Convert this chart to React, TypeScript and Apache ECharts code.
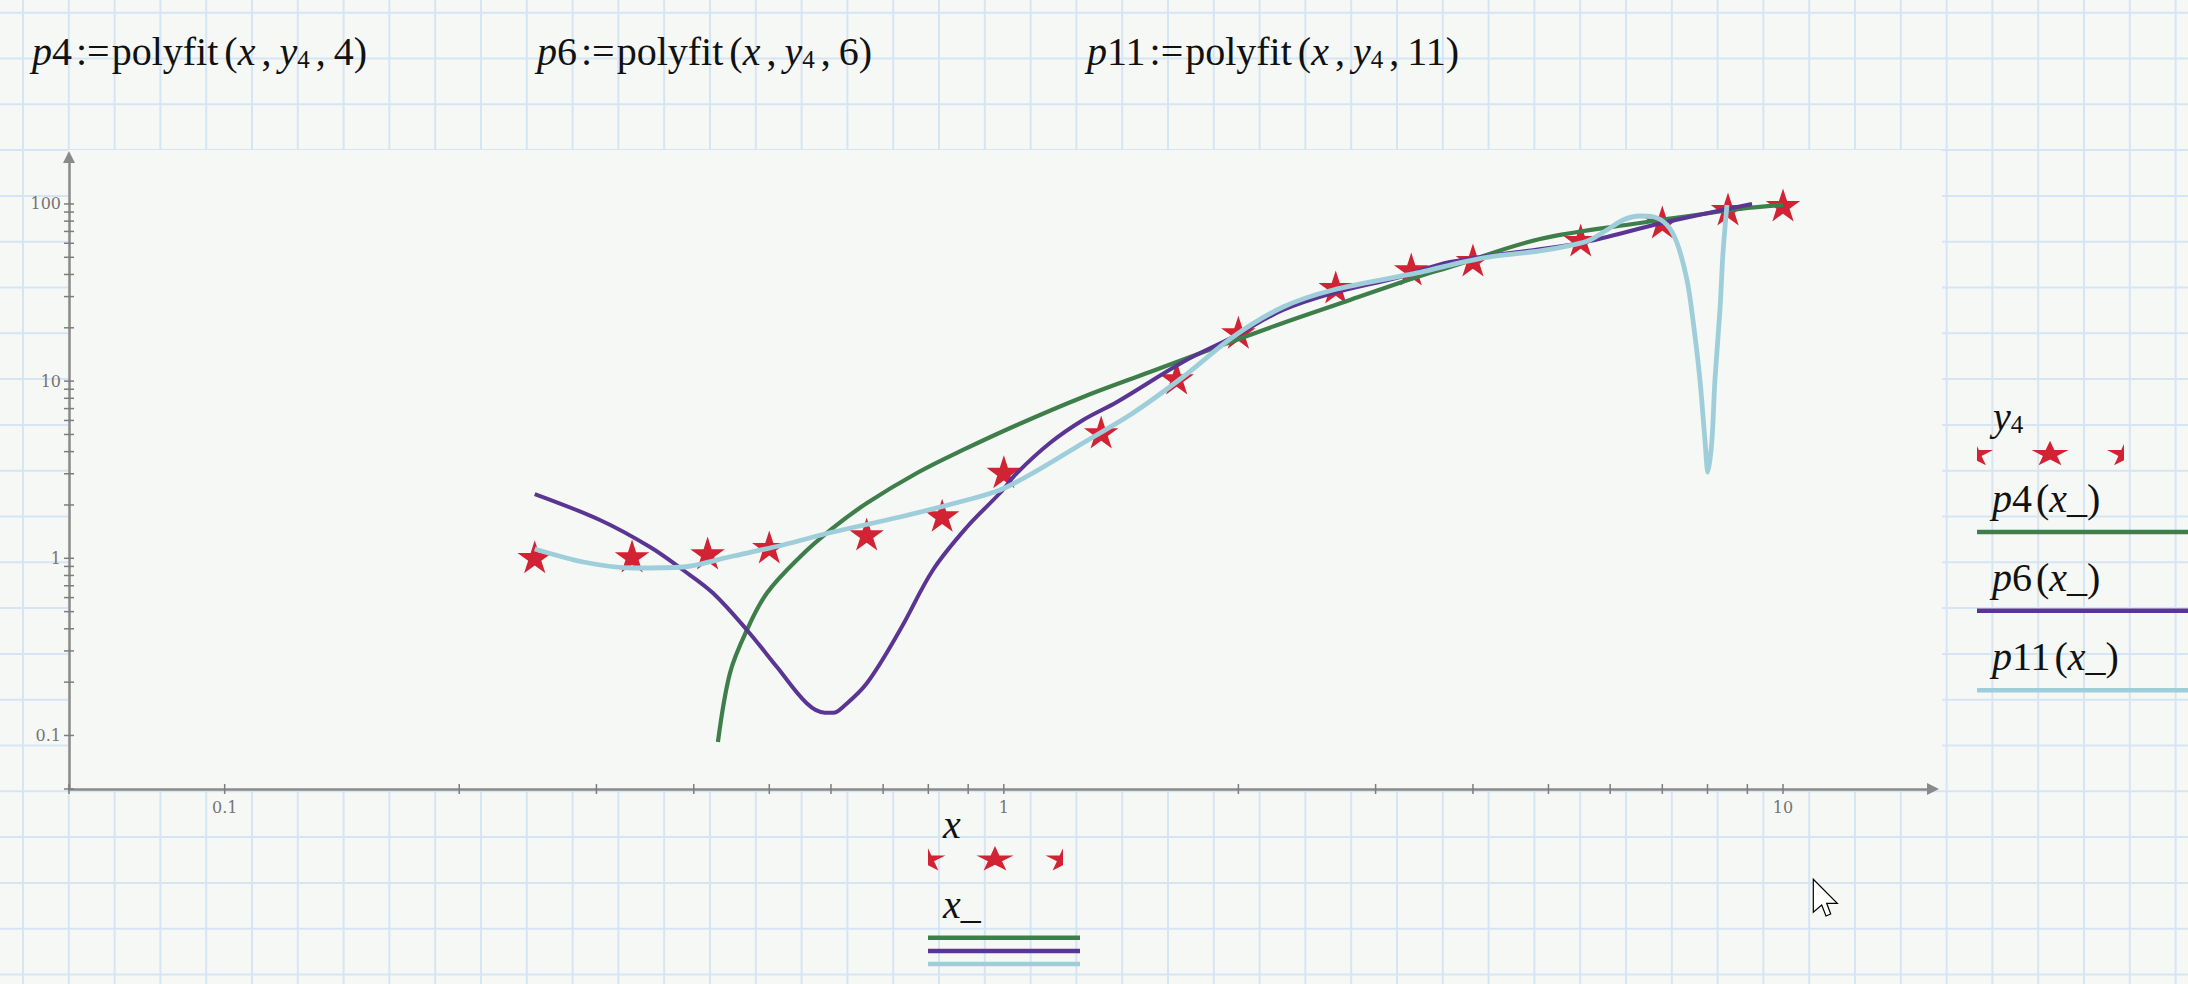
import React, { useEffect, useRef } from 'react';
import * as echarts from 'echarts';

// ---------- data ----------
const xData = [0.25, 0.3333, 0.4167, 0.5, 0.6667, 0.8333, 1, 1.3333, 1.6667, 2, 2.6667, 3.3333, 4, 5.5, 7, 8.5, 10];
const y4 = [1.02, 1.03, 1.07, 1.16, 1.37, 1.75, 3.08, 5.16, 10.4, 18.9, 34.0, 42.9, 48.3, 62.6, 79.1, 93.7, 98.7];

const p4X = [0.4296, 0.4452, 0.468, 0.4966, 0.5474, 0.6036, 0.6674, 0.7736, 0.8862, 1.0396, 1.264, 1.54, 1.877, 2.282, 2.782, 3.391, 3.738, 4.876, 6.554, 8.807, 10];
const p4Y = [0.0918, 0.2253, 0.394, 0.637, 1.017, 1.483, 2.051, 3.03, 4.087, 5.654, 8.138, 11.26, 15.58, 21.29, 28.71, 38.7, 44.1, 63.4, 78.1, 93.7, 98.7];

const p6X = [0.25, 0.3031, 0.3515, 0.3875, 0.4233, 0.468, 0.5115, 0.5585, 0.5893, 0.6041, 0.6222, 0.6674, 0.7358, 0.811, 0.8968, 0.9887, 1.0396, 1.146, 1.264, 1.397, 1.698, 1.968, 2.282, 2.645, 3.224, 3.738, 5.49, 6.995, 9.125];
const p6Y = [2.306, 1.645, 1.158, 0.859, 0.637, 0.394, 0.2434, 0.1519, 0.1344, 0.1344, 0.1454, 0.1978, 0.394, 0.859, 1.502, 2.336, 3.03, 4.475, 6.034, 7.625, 12.82, 17.75, 25.2, 31.4, 38.7, 47.0, 60.2, 78.1, 100];

const p11X = [0.25, 0.2884, 0.3342, 0.3875, 0.4492, 0.5206, 0.6036, 0.7358, 0.8968, 0.9887, 1.0899, 1.264, 1.465, 1.698, 1.968, 2.282, 2.645, 3.391, 3.738, 4.207, 4.876, 5.377, 5.653, 5.944, 6.233, 6.554, 6.809, 7.097, 7.311, 7.53, 7.664, 7.824, 7.94, 8.01, 8.106, 8.178, 8.3, 8.375, 8.474];
const p11Y = [1.128, 0.953, 0.8816, 0.8929, 1.03, 1.189, 1.407, 1.711, 2.133, 2.429, 3.03, 4.475, 6.61, 10.55, 17.75, 26.2, 32.7, 40.8, 45.2, 50.2, 54.3, 58.7, 62.6, 71.3, 81.2, 85.5, 84.7, 76.1, 60.2, 37.2, 22.13, 10.15, 4.654, 3.07, 4.654, 10.15, 25.2, 52.9, 98.7];

const X_MIN = 0.063126;
const X_MAX = 15.578;
const Y_MIN = 0.04987;
const Y_MAX = 184.1;

const xTickValues = [X_MIN, 0.1, 0.2, 0.3, 0.4, 0.5, 0.6, 0.7, 0.8, 0.9, 1, 2, 3, 4, 5, 6, 7, 8, 9, 10];
const yTickValues = [Y_MIN, 0.1, 0.2, 0.3, 0.4, 0.5, 0.6, 0.7, 0.8, 0.9, 1, 2, 3, 4, 5, 6, 7, 8, 9, 10, 20, 30, 40, 50, 60, 70, 80, 90, 100];
const xLabelValues = [0.1, 1, 10];
const yLabelValues = [0.1, 1, 10, 100];

// ---------- styles ----------
const BG = '#f6f8f5';
const GRID_LINE = '#d6e5f4';
const AXIS = '#8a8a8a';
const TICK = '#7d7d7d';
const LABEL = '#747474';
const RED = '#d22335';
const GREEN = '#3e7e4b';
const PURPLE = '#5b3593';
const BLUE = '#9fcedb';
const SERIF = "'Liberation Serif', 'Times New Roman', serif";

const STAR_PATH = 'path://M0,-1 L0.2245,-0.309 L0.951,-0.309 L0.363,0.118 L0.588,0.809 L0,0.382 L-0.588,0.809 L-0.363,0.118 L-0.951,-0.309 L-0.2245,-0.309 Z';

function starPts(cx: number, cy: number, w: number, h: number): number[][] {
  const pts: number[][] = [];
  for (let k = 0; k < 10; k++) {
    const a = (k * Math.PI) / 5;
    const r = k % 2 === 0 ? 1 : 0.382;
    const x = Math.sin(a) * r;
    const y = -Math.cos(a) * r;
    pts.push([cx + (x / 1.902) * w, cy + ((y + 0.0955) / 1.809) * h]);
  }
  return pts;
}

function clipEdge(pts: number[][], X: number, keepRight: boolean): number[][] {
  const out: number[][] = [];
  const inside = (p: number[]) => (keepRight ? p[0] >= X : p[0] <= X);
  const inter = (a: number[], b: number[]) => {
    const t = (X - a[0]) / (b[0] - a[0]);
    return [X, a[1] + t * (b[1] - a[1])];
  };
  for (let i = 0; i < pts.length; i++) {
    const cur = pts[i];
    const prev = pts[(i + pts.length - 1) % pts.length];
    const ci = inside(cur);
    const pi = inside(prev);
    if (ci) {
      if (!pi) out.push(inter(prev, cur));
      out.push(cur);
    } else if (pi) {
      out.push(inter(prev, cur));
    }
  }
  return out;
}

function legendStars(centers: number[], cy: number, xmin: number, xmax: number): any[] {
  const res: any[] = [];
  centers.forEach((cx) => {
    let pts = starPts(cx, cy, 37, 24.5);
    pts = clipEdge(pts, xmin, true);
    pts = clipEdge(pts, xmax, false);
    if (pts.length > 2) {
      res.push({ type: 'polygon', shape: { points: pts }, style: { fill: RED }, z: 20, silent: true });
    }
  });
  return res;
}

const rich: any = {
  i: { fontFamily: SERIF, fontStyle: 'italic', fontSize: 40, fill: '#111' },
  r: { fontFamily: SERIF, fontSize: 40, fill: '#111' },
  s: { fontFamily: SERIF, fontSize: 25, fill: '#111', verticalAlign: 'bottom' },
  g2: { fontFamily: SERIF, fontSize: 8 },
  g4: { fontFamily: SERIF, fontSize: 16 },
  g6: { fontFamily: SERIF, fontSize: 24 },
  g8: { fontFamily: SERIF, fontSize: 32 },
  g10: { fontFamily: SERIF, fontSize: 40 },
};

function formula(name: string, deg: string): string {
  return `{i|p}{r|${name}}{g4| }{r|:=}{g2| }{r|polyfit}{g6| }{r|(}{i|x}{g6| }{r|,}{g8| }{i|y}{s|4}{g6| }{r|,}{g8| }{r|${deg}}{r|)}`;
}

function textEl(text: string, x: number, y: number): any {
  return {
    type: 'text',
    z: 30,
    silent: true,
    style: { text, x, y, align: 'left', verticalAlign: 'middle', rich, fill: '#111', fontFamily: SERIF, fontSize: 40 },
  };
}

function buildGraphics(): any[] {
  const els: any[] = [];
  for (let i = 0; i < 48; i++) {
    const x = 23 + 45.8 * i;
    els.push({ type: 'line', z: -100, silent: true, shape: { x1: x, y1: 0, x2: x, y2: 984 }, style: { stroke: GRID_LINE, lineWidth: 2 } });
  }
  for (let j = 0; j < 22; j++) {
    const y = 12.7 + 45.8 * j;
    els.push({ type: 'line', z: -100, silent: true, shape: { x1: 0, y1: y, x2: 2188, y2: y }, style: { stroke: GRID_LINE, lineWidth: 2 } });
  }
  els.push({ type: 'rect', z: -90, silent: true, shape: { x: 68, y: 150, width: 1874, height: 640 }, style: { fill: BG } });

  // formulas
  els.push(textEl(formula('4', '4'), 32, 51.5));
  els.push(textEl(formula('6', '6'), 537, 51.5));
  els.push(textEl(formula('11', '11'), 1087, 51.5));

  // right legend
  els.push(textEl('{i|y}{s|4}', 1993, 416.5));
  els.push(...legendStars([1974.5, 2050, 2125.5], 453, 1977, 2124));
  els.push(textEl('{i|p}{r|4}{g4| }{r|(}{i|x_}{r|)}', 1992, 498));
  els.push({ type: 'line', z: 20, silent: true, shape: { x1: 1977, y1: 532, x2: 2200, y2: 532 }, style: { stroke: GREEN, lineWidth: 4.5 } });
  els.push(textEl('{i|p}{r|6}{g4| }{r|(}{i|x_}{r|)}', 1992, 577));
  els.push({ type: 'line', z: 20, silent: true, shape: { x1: 1977, y1: 610.7, x2: 2200, y2: 610.7 }, style: { stroke: PURPLE, lineWidth: 4.5 } });
  els.push(textEl('{i|p}{r|11}{g4| }{r|(}{i|x_}{r|)}', 1992, 656.5));
  els.push({ type: 'line', z: 20, silent: true, shape: { x1: 1977, y1: 690.3, x2: 2200, y2: 690.3 }, style: { stroke: BLUE, lineWidth: 4.5 } });

  // bottom legend
  els.push(textEl('{i|x}', 943, 824.5));
  els.push(...legendStars([927, 995, 1064], 858.3, 928, 1063));
  els.push(textEl('{i|x_}', 943, 904));
  els.push({ type: 'line', z: 20, silent: true, shape: { x1: 928, y1: 937.7, x2: 1080, y2: 937.7 }, style: { stroke: GREEN, lineWidth: 4.5 } });
  els.push({ type: 'line', z: 20, silent: true, shape: { x1: 928, y1: 951, x2: 1080, y2: 951 }, style: { stroke: PURPLE, lineWidth: 4.5 } });
  els.push({ type: 'line', z: 20, silent: true, shape: { x1: 928, y1: 964, x2: 1080, y2: 964 }, style: { stroke: BLUE, lineWidth: 4.5 } });

  // mouse cursor
  const cx = 1813.3;
  const cy = 879.3;
  const cur = [[0, 0], [0, 33], [8.4, 25.7], [12.7, 36.7], [17.4, 34.7], [13.4, 24], [24, 24]].map((p) => [cx + p[0], cy + p[1]]);
  els.push({ type: 'polygon', z: 40, silent: true, shape: { points: cur }, style: { fill: '#ffffff', stroke: '#000000', lineWidth: 1.2 } });
  return els;
}

function labelFormatter(values: number[]) {
  return (v: number) => {
    for (const t of values) {
      if (Math.abs(Math.log10(v) - Math.log10(t)) < 1e-6) return String(t);
    }
    return '';
  };
}

function pairs(xs: number[], ys: number[]): number[][] {
  return xs.map((x, i) => [x, ys[i]]);
}

export default function App() {
  const ref = useRef<HTMLDivElement | null>(null);
  useEffect(() => {
    document.body.style.margin = '0';
    document.body.style.overflow = 'hidden';
    if (!ref.current) return;
    const chart = echarts.init(ref.current, undefined, { renderer: 'svg' });
    const tickSeries = (data: number[][], vertical: boolean) => ({
      type: 'custom',
      coordinateSystem: 'cartesian2d',
      silent: true,
      clip: false,
      z: 6,
      data,
      renderItem: (_params: any, api: any) => {
        const p = api.coord([api.value(0), api.value(1)]);
        const shape = vertical
          ? { x1: p[0], y1: p[1] - 5, x2: p[0], y2: p[1] + 5 }
          : { x1: p[0] - 5, y1: p[1], x2: p[0] + 5, y2: p[1] };
        return { type: 'line', shape, style: { stroke: TICK, lineWidth: 1.5 } };
      },
    });
    const option: any = {
      animation: false,
      backgroundColor: BG,
      grid: { left: 69, top: 157, right: 255, bottom: 195, show: false, containLabel: false },
      graphic: { elements: buildGraphics() },
      xAxis: {
        type: 'log',
        logBase: 10,
        min: X_MIN,
        max: X_MAX,
        position: 'bottom',
        axisLine: { show: true, onZero: false, symbol: ['none', 'triangle'], symbolSize: [12, 12], lineStyle: { color: AXIS, width: 2.5 } },
        axisTick: { show: false },
        minorTick: { show: false },
        splitLine: { show: false },
        axisLabel: { formatter: labelFormatter(xLabelValues), fontFamily: 'DejaVu Serif', fontSize: 16, color: LABEL, margin: 10 },
      },
      yAxis: {
        type: 'log',
        logBase: 10,
        min: Y_MIN,
        max: Y_MAX,
        position: 'left',
        axisLine: { show: true, onZero: false, symbol: ['none', 'triangle'], symbolSize: [12, 12], lineStyle: { color: AXIS, width: 2.5 } },
        axisTick: { show: false },
        minorTick: { show: false },
        splitLine: { show: false },
        axisLabel: { formatter: labelFormatter(yLabelValues), fontFamily: 'DejaVu Serif', fontSize: 16, color: LABEL, margin: 8 },
      },
      series: [
        tickSeries(xTickValues.map((v) => [v, Y_MIN]), true),
        tickSeries(yTickValues.map((v) => [X_MIN, v]), false),
        {
          type: 'scatter',
          name: 'y4',
          z: 2,
          data: pairs(xData, y4),
          symbol: STAR_PATH,
          symbolSize: [34.5, 33],
          itemStyle: { color: RED, opacity: 1 },
          silent: true,
        },
        {
          type: 'line', name: 'p4', z: 3, data: pairs(p4X, p4Y), showSymbol: false, symbol: 'none', smooth: 0.35,
          lineStyle: { color: GREEN, width: 4.2, join: 'round' }, silent: true,
        },
        {
          type: 'line', name: 'p6', z: 4, data: pairs(p6X, p6Y), showSymbol: false, symbol: 'none', smooth: 0.35,
          lineStyle: { color: PURPLE, width: 4, join: 'round' }, silent: true,
        },
        {
          type: 'line', name: 'p11', z: 5, data: pairs(p11X, p11Y), showSymbol: false, symbol: 'none', smooth: 0.3,
          lineStyle: { color: BLUE, width: 4.8, join: 'round' }, silent: true,
        },
      ],
    };
    chart.setOption(option);
    return () => {
      chart.dispose();
    };
  }, []);
  return <div ref={ref} style={{ position: 'absolute', left: 0, top: 0, width: 2188, height: 984 }} />;
}
